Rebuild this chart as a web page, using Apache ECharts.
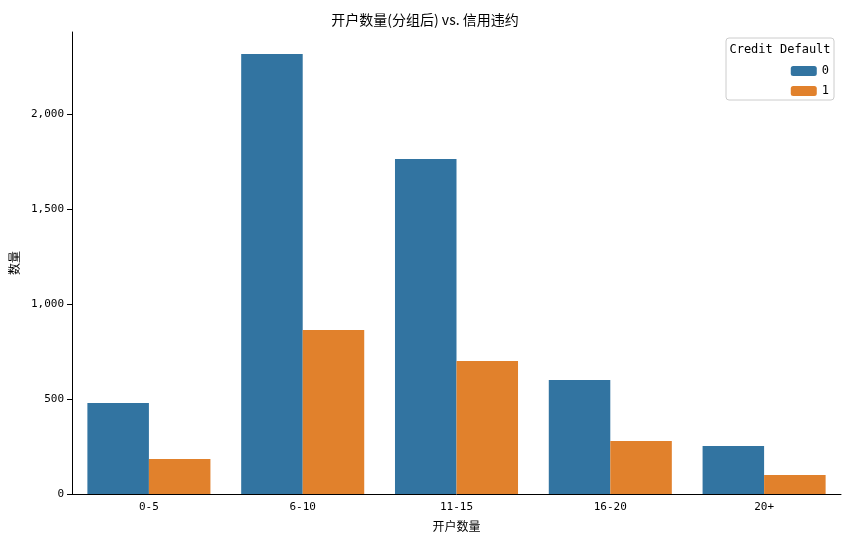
<!DOCTYPE html><html><head><meta charset="utf-8">
<script src="https://cdn.jsdelivr.net/npm/echarts@6/dist/echarts.min.js"></script>
<style>html,body{margin:0;padding:0;background:#fff}#c{width:850px;height:545px}</style></head>
<body><div id="c"></div><script>
const categories=['0-5','6-10','11-15','16-20','20+'];
const default0=[479,2316,1763,600,253];
const default1=[184,863,700,279,100];
const yTicks=[0,500,1000,1500,2000];
const F='"DejaVu Sans Mono","Noto Sans CJK SC",monospace';
const chart=echarts.init(document.getElementById('c'));
chart.setOption({
 animation:false,
 title:{text:'开户数量(分组后) vs. 信用违约',left:'center',top:8,textStyle:{fontFamily:'"Noto Sans CJK SC"',fontSize:14,fontWeight:'normal',color:'#000'}},
 grid:{left:66,right:9,top:32,bottom:51},
 legend:{data:['0','1'],orient:'vertical',right:16,top:60,itemWidth:26,itemHeight:10,itemGap:8,textStyle:{fontFamily:F,fontSize:12,color:'#000'}},
 graphic:[{type:'rect',shape:{x:726,y:38,width:108,height:62,r:3},style:{fill:'#fff',stroke:'#ccc',lineWidth:1}},
  {type:'text',x:780,y:44,style:{text:'Credit Default',fontFamily:F,fontSize:12,fill:'#000',textAlign:'center'}}],
 xAxis:{type:'category',data:categories,name:'开户数量',nameLocation:'middle',nameGap:26,nameTextStyle:{fontFamily:'"Noto Sans CJK SC"',fontSize:12,color:'#000'},
  axisLine:{lineStyle:{color:'#000'}},axisTick:{alignWithLabel:true,lineStyle:{color:'#000'}},axisLabel:{fontFamily:F,fontSize:11,color:'#000'}},
 yAxis:{type:'value',min:0,max:2432,interval:500,name:'数量',nameLocation:'middle',nameGap:50,nameTextStyle:{fontFamily:'"Noto Sans CJK SC"',fontSize:12,color:'#000'},
  splitLine:{show:false},axisLine:{show:true,lineStyle:{color:'#000'}},axisTick:{show:true,lineStyle:{color:'#000'}},
  axisLabel:{fontFamily:F,fontSize:11,color:'#000',showMaxLabel:false}},
 series:[
  {name:'0',type:'bar',data:default0,itemStyle:{color:'#3274a1'},barGap:'0%',barCategoryGap:'20%'},
  {name:'1',type:'bar',data:default1,itemStyle:{color:'#e1812c'}}
 ]
});
</script></body></html>
